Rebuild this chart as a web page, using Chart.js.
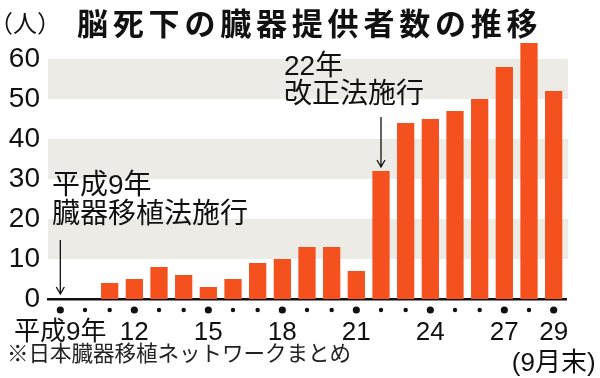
<!DOCTYPE html>
<html>
<head>
<meta charset="utf-8">
<script src="https://cdn.jsdelivr.net/npm/chart.js@4/dist/chart.umd.min.js"></script>
<style>
  html, body { margin: 0; padding: 0; background: #fff; }
  #wrap { width: 600px; height: 378px; position: relative; }
</style>
</head>
<body>
<div id="wrap"><canvas id="c" width="600" height="378"></canvas></div>
<script>
// ---- data ----
const categories = ['9','10','11','12','13','14','15','16','17','18','19','20','21','22','23','24','25','26','27','28','29'];
const donors = [0, 0, 4, 5, 8, 6, 3, 5, 9, 10, 13, 13, 7, 32, 44, 45, 47, 50, 58, 64, 52];
const labeledYears = ['9','12','15','18','21','24','27','29'];
const yTickValues = [0, 10, 20, 30, 40, 50, 60];
const bandRanges = [[10, 20], [30, 40], [50, 60]];

const titleText = '脳死下の臓器提供者数の推移';
const unitText = '（人）';
const firstLabel = '平成9年';
const lastLabelNote = '(9月末)';
const note1 = ['平成9年', '臓器移植法施行'];
const note2 = ['22年', '改正法施行'];
const sourceText = '※日本臓器移植ネットワークまとめ';

const BAR = '#f4511e';
const BAND = '#ecebe5';
const LATIN = "'Liberation Sans', 'Noto Sans CJK JP', sans-serif";
const CJK = "'Noto Sans CJK JP', sans-serif";

function arrow(ctx, x, y1, y2) {
  ctx.save();
  ctx.strokeStyle = '#111';
  ctx.lineWidth = 1.3;
  ctx.beginPath();
  ctx.moveTo(x, y1); ctx.lineTo(x, y2);
  ctx.moveTo(x - 4, y2 - 7); ctx.lineTo(x, y2); ctx.lineTo(x + 4, y2 - 7);
  ctx.stroke();
  ctx.restore();
}

const decor = {
  id: 'decor',
  beforeDatasetsDraw(chart) {
    const { ctx, chartArea, scales: { y } } = chart;
    ctx.save();
    ctx.fillStyle = BAND;
    bandRanges.forEach(([a, b]) => {
      const top = y.getPixelForValue(b), bot = y.getPixelForValue(a);
      ctx.fillRect(chartArea.left, top, chartArea.right - chartArea.left + 2, bot - top);
    });
    ctx.restore();
  },
  afterDraw(chart) {
    const { ctx, chartArea, scales: { x, y } } = chart;
    ctx.save();
    // dots under the axis
    ctx.fillStyle = '#111';
    categories.forEach((c, i) => {
      const px = x.getPixelForValue(i);
      const r = labeledYears.includes(c) ? 3.6 : 2.2;
      ctx.beginPath();
      ctx.arc(px, chartArea.bottom + 11, r, 0, Math.PI * 2);
      ctx.fill();
    });
    // title
    ctx.fillStyle = '#111';
    ctx.textBaseline = 'middle';
    ctx.textAlign = 'left';
    ctx.font = 'bold 31px ' + CJK;
    ctx.letterSpacing = '4.8px';
    ctx.fillText(titleText, 77, 23);
    ctx.letterSpacing = '0px';
    ctx.font = '24px ' + CJK;
    ctx.fillText(unitText, -11, 23);
    // annotations
    ctx.font = '28px ' + LATIN;
    ctx.fillText(note1[0], 52, 186);
    ctx.fillText(note1[1], 52, 215);
    ctx.fillText(note2[0], 284, 67);
    ctx.fillText(note2[1], 284, 95);
    // arrows
    const i9 = categories.indexOf('9');
    const i22 = categories.indexOf('22');
    arrow(ctx, x.getPixelForValue(i9), 240, chartArea.bottom - 5);
    arrow(ctx, x.getPixelForValue(i22), 117, y.getPixelForValue(donors[i22]) - 4);
    // source
    ctx.font = '21.5px ' + CJK;
    ctx.fillStyle = '#222';
    ctx.fillText(sourceText, 7, 353);
    ctx.restore();
  }
};

new Chart(document.getElementById('c'), {
  type: 'bar',
  data: {
    labels: categories,
    datasets: [{
      data: donors,
      backgroundColor: BAR,
      borderWidth: 0,
      categoryPercentage: 1.0,
      barPercentage: 0.7
    }]
  },
  options: {
    responsive: false,
    animation: false,
    events: [],
    layout: { padding: { top: 39, right: 34, left: 0, bottom: 0 } },
    plugins: { legend: { display: false }, tooltip: { enabled: false }, title: { display: false } },
    scales: {
      x: {
        grid: { display: false, drawTicks: false },
        border: { display: true, color: '#111', width: 2.5 },
        afterFit(s) { s.height = 79; s.paddingLeft = 0; s.paddingRight = 0; },
        ticks: {
          autoSkip: false,
          maxRotation: 0,
          minRotation: 0,
          padding: 18,
          color: '#111',
          font: { family: LATIN, size: 26, lineHeight: 1.2 },
          callback(v, i) {
            const c = categories[i];
            if (!labeledYears.includes(c)) return '';
            if (c === '9') return firstLabel;
            if (c === '29') return [c, lastLabelNote];
            return c;
          }
        }
      },
      y: {
        min: 0,
        max: 65,
        grid: { display: false, drawTicks: false },
        border: { display: false },
        afterFit(s) { s.width = 48; s.paddingTop = 0; s.paddingBottom = 0; },
        afterBuildTicks(s) { s.ticks = yTickValues.map(v => ({ value: v })); },
        ticks: {
          padding: 8,
          color: '#111',
          font: { family: LATIN, size: 28 }
        }
      }
    }
  },
  plugins: [decor]
});
</script>
</body>
</html>
